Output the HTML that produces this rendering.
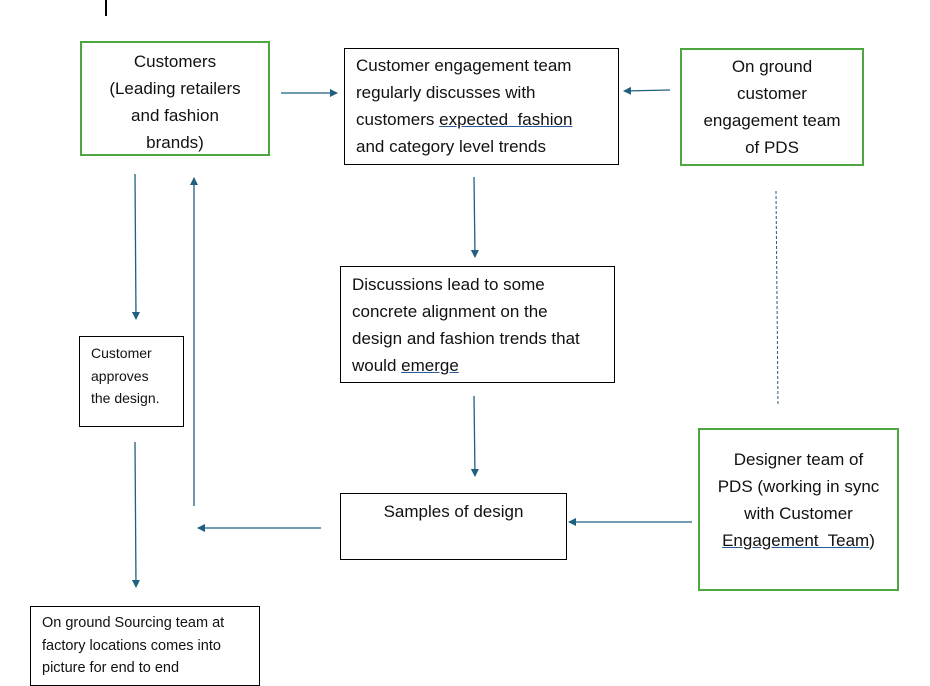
<!DOCTYPE html>
<html><head><meta charset="utf-8"><style>
body{margin:0;width:930px;height:675px;background:#fff;position:relative;overflow:hidden;font-family:"Liberation Sans",sans-serif;color:#111}
.b{position:absolute;box-sizing:border-box;border:1px solid #000;background:#fff}
.g{border:2px solid #4ea640}
.t{position:absolute;font-size:17px;line-height:27px;white-space:nowrap}
.s{font-size:14px;line-height:22.5px}
.c{text-align:center}
u{text-decoration-color:#2a5a9a}
</style></head><body>
<svg width="930" height="675" style="position:absolute;left:0;top:0">
<defs><marker id="a" markerWidth="8" markerHeight="8" refX="7" refY="4" orient="auto" markerUnits="userSpaceOnUse"><path d="M0,0 L8,4 L0,8z" fill="#1f5f7f"/></marker></defs>
<g stroke="#1f5f7f" stroke-width="1.3" fill="none" marker-end="url(#a)">
<line x1="281" y1="93" x2="337" y2="93"/>
<line x1="670" y1="90" x2="624" y2="91"/>
<line x1="474" y1="177" x2="475" y2="257"/>
<line x1="135" y1="174" x2="136" y2="319"/>
<line x1="194" y1="506" x2="194" y2="178"/>
<line x1="135" y1="442" x2="136" y2="587"/>
<line x1="474" y1="396" x2="475" y2="476"/>
<line x1="321" y1="528" x2="198" y2="528"/>
<line x1="692" y1="522" x2="569" y2="522"/>
</g>
<line x1="776" y1="191" x2="778" y2="406" stroke="#1f5f7f" stroke-width="1" stroke-dasharray="3,2"/>
<line x1="106" y1="0" x2="106" y2="16" stroke="#000" stroke-width="2"/>
</svg>
<div class="b g" style="left:80px;top:41px;width:190px;height:115px"></div>
<div class="t c" style="left:80px;top:48px;width:190px;height:104px;overflow:hidden">Customers<br>(Leading retailers<br>and fashion<br>brands)</div>
<div class="b" style="left:344px;top:48px;width:275px;height:117px"></div>
<div class="t" style="left:356px;top:52px">Customer engagement team<br>regularly discusses with<br>customers <u>expected&nbsp; fashion</u><br>and category level trends</div>
<div class="b g" style="left:680px;top:48px;width:184px;height:118px"></div>
<div class="t c" style="left:680px;top:53px;width:184px">On ground<br>customer<br>engagement team<br>of PDS</div>
<div class="b" style="left:340px;top:266px;width:275px;height:117px"></div>
<div class="t" style="left:352px;top:271px">Discussions lead to some<br>concrete alignment on the<br>design and fashion trends that<br>would <u>emerge</u></div>
<div class="b" style="left:79px;top:336px;width:105px;height:91px"></div>
<div class="t s" style="left:91px;top:342px">Customer<br>approves<br>the design.</div>
<div class="b" style="left:340px;top:493px;width:227px;height:67px"></div>
<div class="t c" style="left:340px;top:498px;width:227px">Samples of design</div>
<div class="b g" style="left:698px;top:428px;width:201px;height:163px"></div>
<div class="t c" style="left:698px;top:446px;width:201px">Designer team of<br>PDS (working in sync<br>with Customer<br><u>Engagement&nbsp; Team</u>)</div>
<div class="b" style="left:30px;top:606px;width:230px;height:80px"></div>
<div class="t s" style="left:42px;top:612px;font-size:14.5px">On ground Sourcing team at<br>factory locations comes into<br>picture for end to end</div>
</body></html>
